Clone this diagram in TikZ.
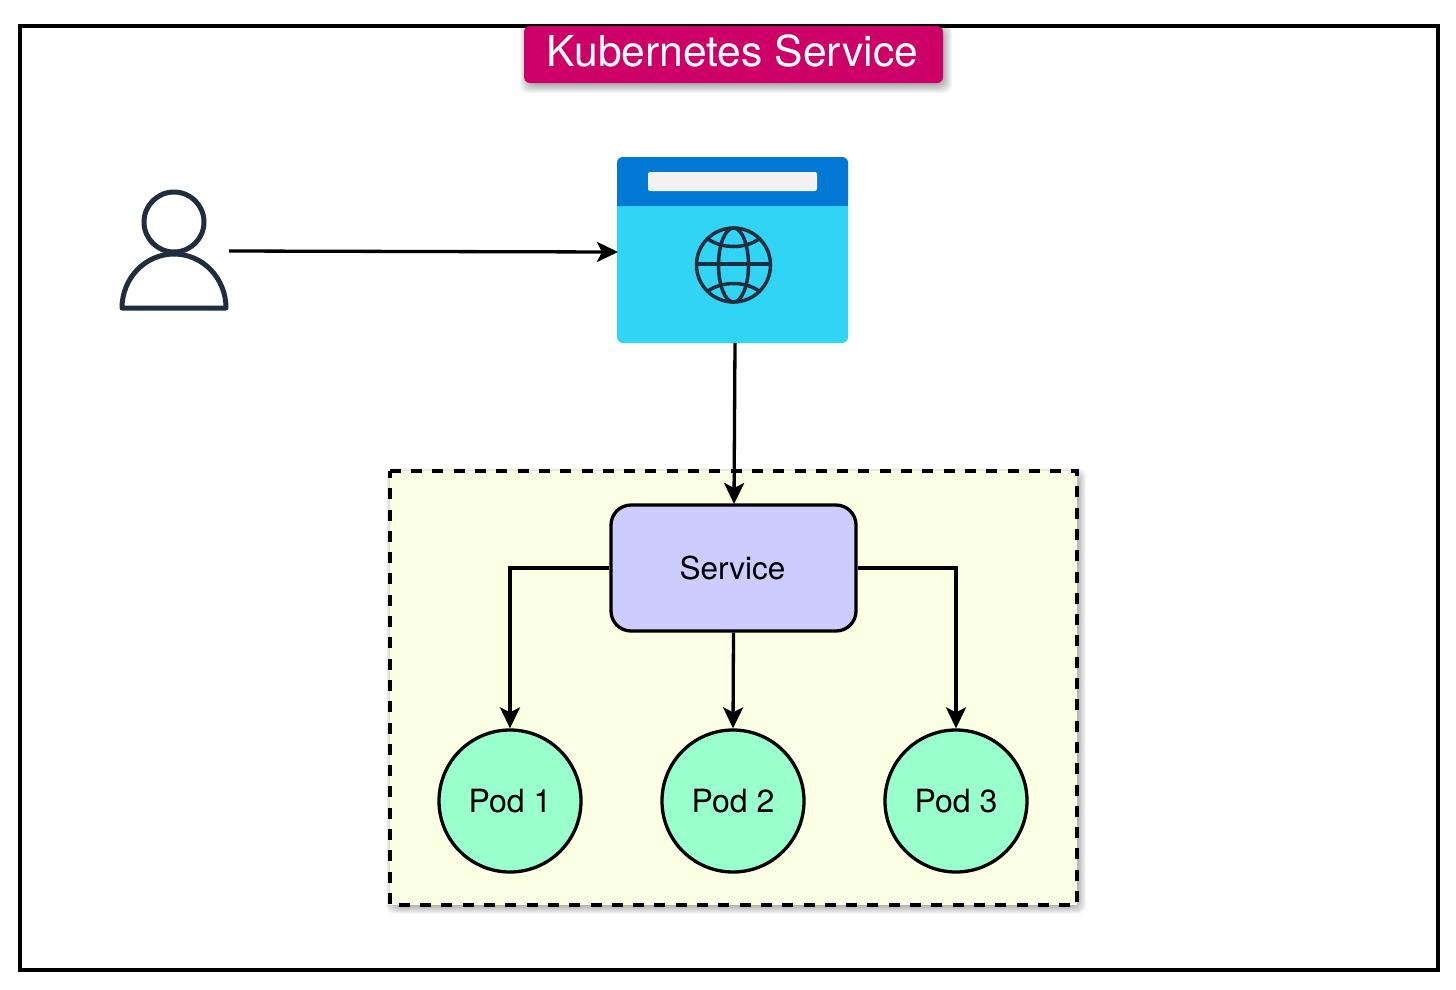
\documentclass[tikz,border=0pt]{standalone}
\usepackage{fontspec}
\setmainfont{TeX Gyre Heros}
\usetikzlibrary{arrows.meta}
\definecolor{titlered}{HTML}{CC0066}
\definecolor{webdark}{HTML}{0078D4}
\definecolor{weblight}{HTML}{32D4F5}
\definecolor{webbar}{HTML}{F2F2F2}
\definecolor{iconink}{HTML}{1F2D3F}
\definecolor{groupfill}{HTML}{FBFFE4}
\definecolor{svcfill}{HTML}{CCCCFF}
\definecolor{podfill}{HTML}{99FFCC}
\begin{document}
\begin{tikzpicture}[x=1pt,y=-1pt,
    softshadow/.style={black,opacity=.035},
    titlebox/.style={fill=titlered,text=white,rounded corners=6pt,inner sep=0pt,
      minimum width=419pt,minimum height=57pt,font=\fontsize{42.6}{46}\selectfont},
    groupbox/.style={fill=groupfill,inner sep=0pt,minimum width=687pt,minimum height=434pt},
    groupline/.style={draw=black,line width=4pt,dash pattern=on 11pt off 10.3pt},
    svcbox/.style={draw=black,fill=svcfill,line width=3.3pt,rounded corners=20pt,inner sep=0pt,
      minimum width=245pt,minimum height=126pt,font=\fontsize{31.5}{36}\selectfont},
    pod/.style={circle,draw=black,fill=podfill,line width=3.3pt,inner sep=0pt,
      minimum size=142pt,font=\fontsize{32}{36}\selectfont},
    flow/.style={draw=black,line width=3.3pt,-{Stealth[length=21pt,width=20pt,inset=5pt]}},
    icon/.style={draw=iconink,line width=5pt},
    globe/.style={draw=iconink,line width=3.5pt}]
  \useasboundingbox (0,0) rectangle (1456,989);
  \fill[white] (0,0) rectangle (1456,989);
  \node (frame) [draw=black,line width=3.5pt,inner sep=0pt,minimum width=1418pt,minimum height=944pt] at (729,498) {};
  \foreach \r in {-3,-2,...,6}
    \fill[softshadow,rounded corners=8pt] (526-\r,29-\r) rectangle (946+\r,87+\r);
  \node (title) [titlebox] at (733.5,54.5) {\raisebox{7pt}{\kern-2pt Kubernetes Service}};

  % user
  \node (user) [inner sep=0pt,minimum width=110pt,minimum height=122pt] at (174,251) {};
  \draw[icon] (174,222) circle (30);
  \draw[icon,line join=round] (122,308) arc[start angle=180,end angle=360,x radius=52,y radius=54] -- cycle;

  % web page
  \node (web) [fill=weblight,rounded corners=6pt,inner sep=0pt,minimum width=231pt,minimum height=186pt] at (732.5,250) {};
  \fill[webdark,rounded corners=6pt] (617,206) -- (617,157) -- (848,157) -- (848,206) [sharp corners] -- cycle;
  \fill[webdark] (617,190) rectangle (848,206);
  \fill[webbar,rounded corners=2pt] (648,172) rectangle (817,191);
  \draw[globe] (733.5,265) circle (37);
  \draw[globe] (733.5,265) ellipse [x radius=15,y radius=37];
  \draw[globe] (696.5,264) -- (770.5,264);
  \draw[globe] (708,239) .. controls (722,249) and (745,249) .. (759,239);
  \draw[globe] (708,291) .. controls (722,281) and (745,281) .. (759,291);

  % cluster
  \foreach \r in {-3,-2,...,6}
    \fill[softshadow,rounded corners=8pt] (392-\r,474-\r) rectangle (1080+\r,908+\r);
  \node (group) [groupbox] at (733.5,688) {};
  \draw[groupline] (group.north west) -- (group.north east) -- (group.south east) -- (group.south west) -- cycle;
  \node (service) [svcbox] at (733.5,568) {\kern-2pt Service};
  \node (pod1) [pod] at (510,801) {Pod 1};
  \node (pod2) [pod] at (733,801) {Pod 2};
  \node (pod3) [pod] at (956,801) {Pod 3};

  \coordinate (userout) at (229,251);
  \coordinate (webin) at (618,252);
  \coordinate (webout) at (735,343);
  \coordinate (svcin) at (734,504);
  \draw[flow] (userout) -- (webin);
  \draw[flow] (webout) -- (svcin);
  \draw[flow] (service.west) -| (pod1.north);
  \draw[flow] (service.south) -- (pod2.north);
  \draw[flow] (service.east) -| (pod3.north);
\end{tikzpicture}
\end{document}
